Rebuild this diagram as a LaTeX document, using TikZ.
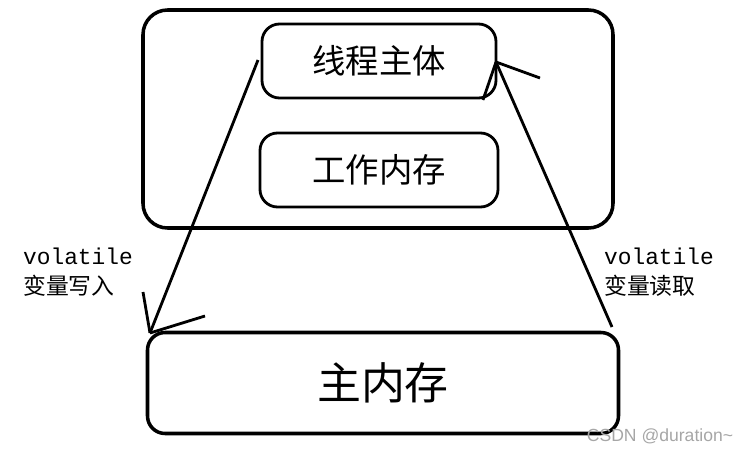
\documentclass[tikz,border=0pt]{standalone}
\usepackage{fontspec}
\setmainfont{Liberation Sans}
\newfontfamily\cjk{Noto Sans CJK SC}
\newfontfamily\mono{Liberation Mono}
\usetikzlibrary{arrows,positioning}

\begin{document}
\begin{tikzpicture}[x=0.02cm,y=-0.02cm,>=stealth',line width=1.6pt]
  \tikzstyle{box}=[draw=black,rounded corners=10pt,inner sep=0pt]
  \tikzstyle{lbl}=[align=left,font=\fontsize{13}{15}\selectfont,inner sep=0pt]

  \useasboundingbox (0,0) rectangle (744,450);
  % frames
  \draw [rounded corners=14pt,line width=2pt] (143,10) rectangle (613,228);
  \node [box,minimum width=234*0.02cm,minimum height=74*0.02cm,font=\cjk\fontsize{19}{21}\selectfont] (thread) at (379,61) {线程主体};
  \node [box,minimum width=238*0.02cm,minimum height=74*0.02cm,font=\cjk\fontsize{19}{21}\selectfont] (work) at (379,170) {工作内存};
  \node [box,line width=2pt,minimum width=471*0.02cm,minimum height=101*0.02cm,font=\cjk\fontsize{25}{27}\selectfont] (mem) at (383,383) {主内存};

  % connectors
  \coordinate (wtop) at (258,60);
  \coordinate (wend) at (150,333);
  \coordinate (rbot) at (612,327);
  \coordinate (rend) at (496,62);
  \draw (wtop) -- (wend);
  \draw (wend) -- (143,292) (wend) -- (205,316);
  \draw (rbot) -- (rend);
  \draw (rend) -- (483,100) (rend) -- (540,78);

  % labels
  \node [lbl] (wlbl) at (78,272) {{\mono volatile}\\[2pt]{\cjk 变量写入}};
  \node [lbl] (rlbl) at (659,272) {{\mono volatile}\\[2pt]{\cjk 变量读取}};
  \node [font=\fontsize{10}{12}\selectfont,text=gray!70,inner sep=0pt] (mark) at (660,436) {CSDN @duration\textasciitilde};
\end{tikzpicture}
\end{document}
